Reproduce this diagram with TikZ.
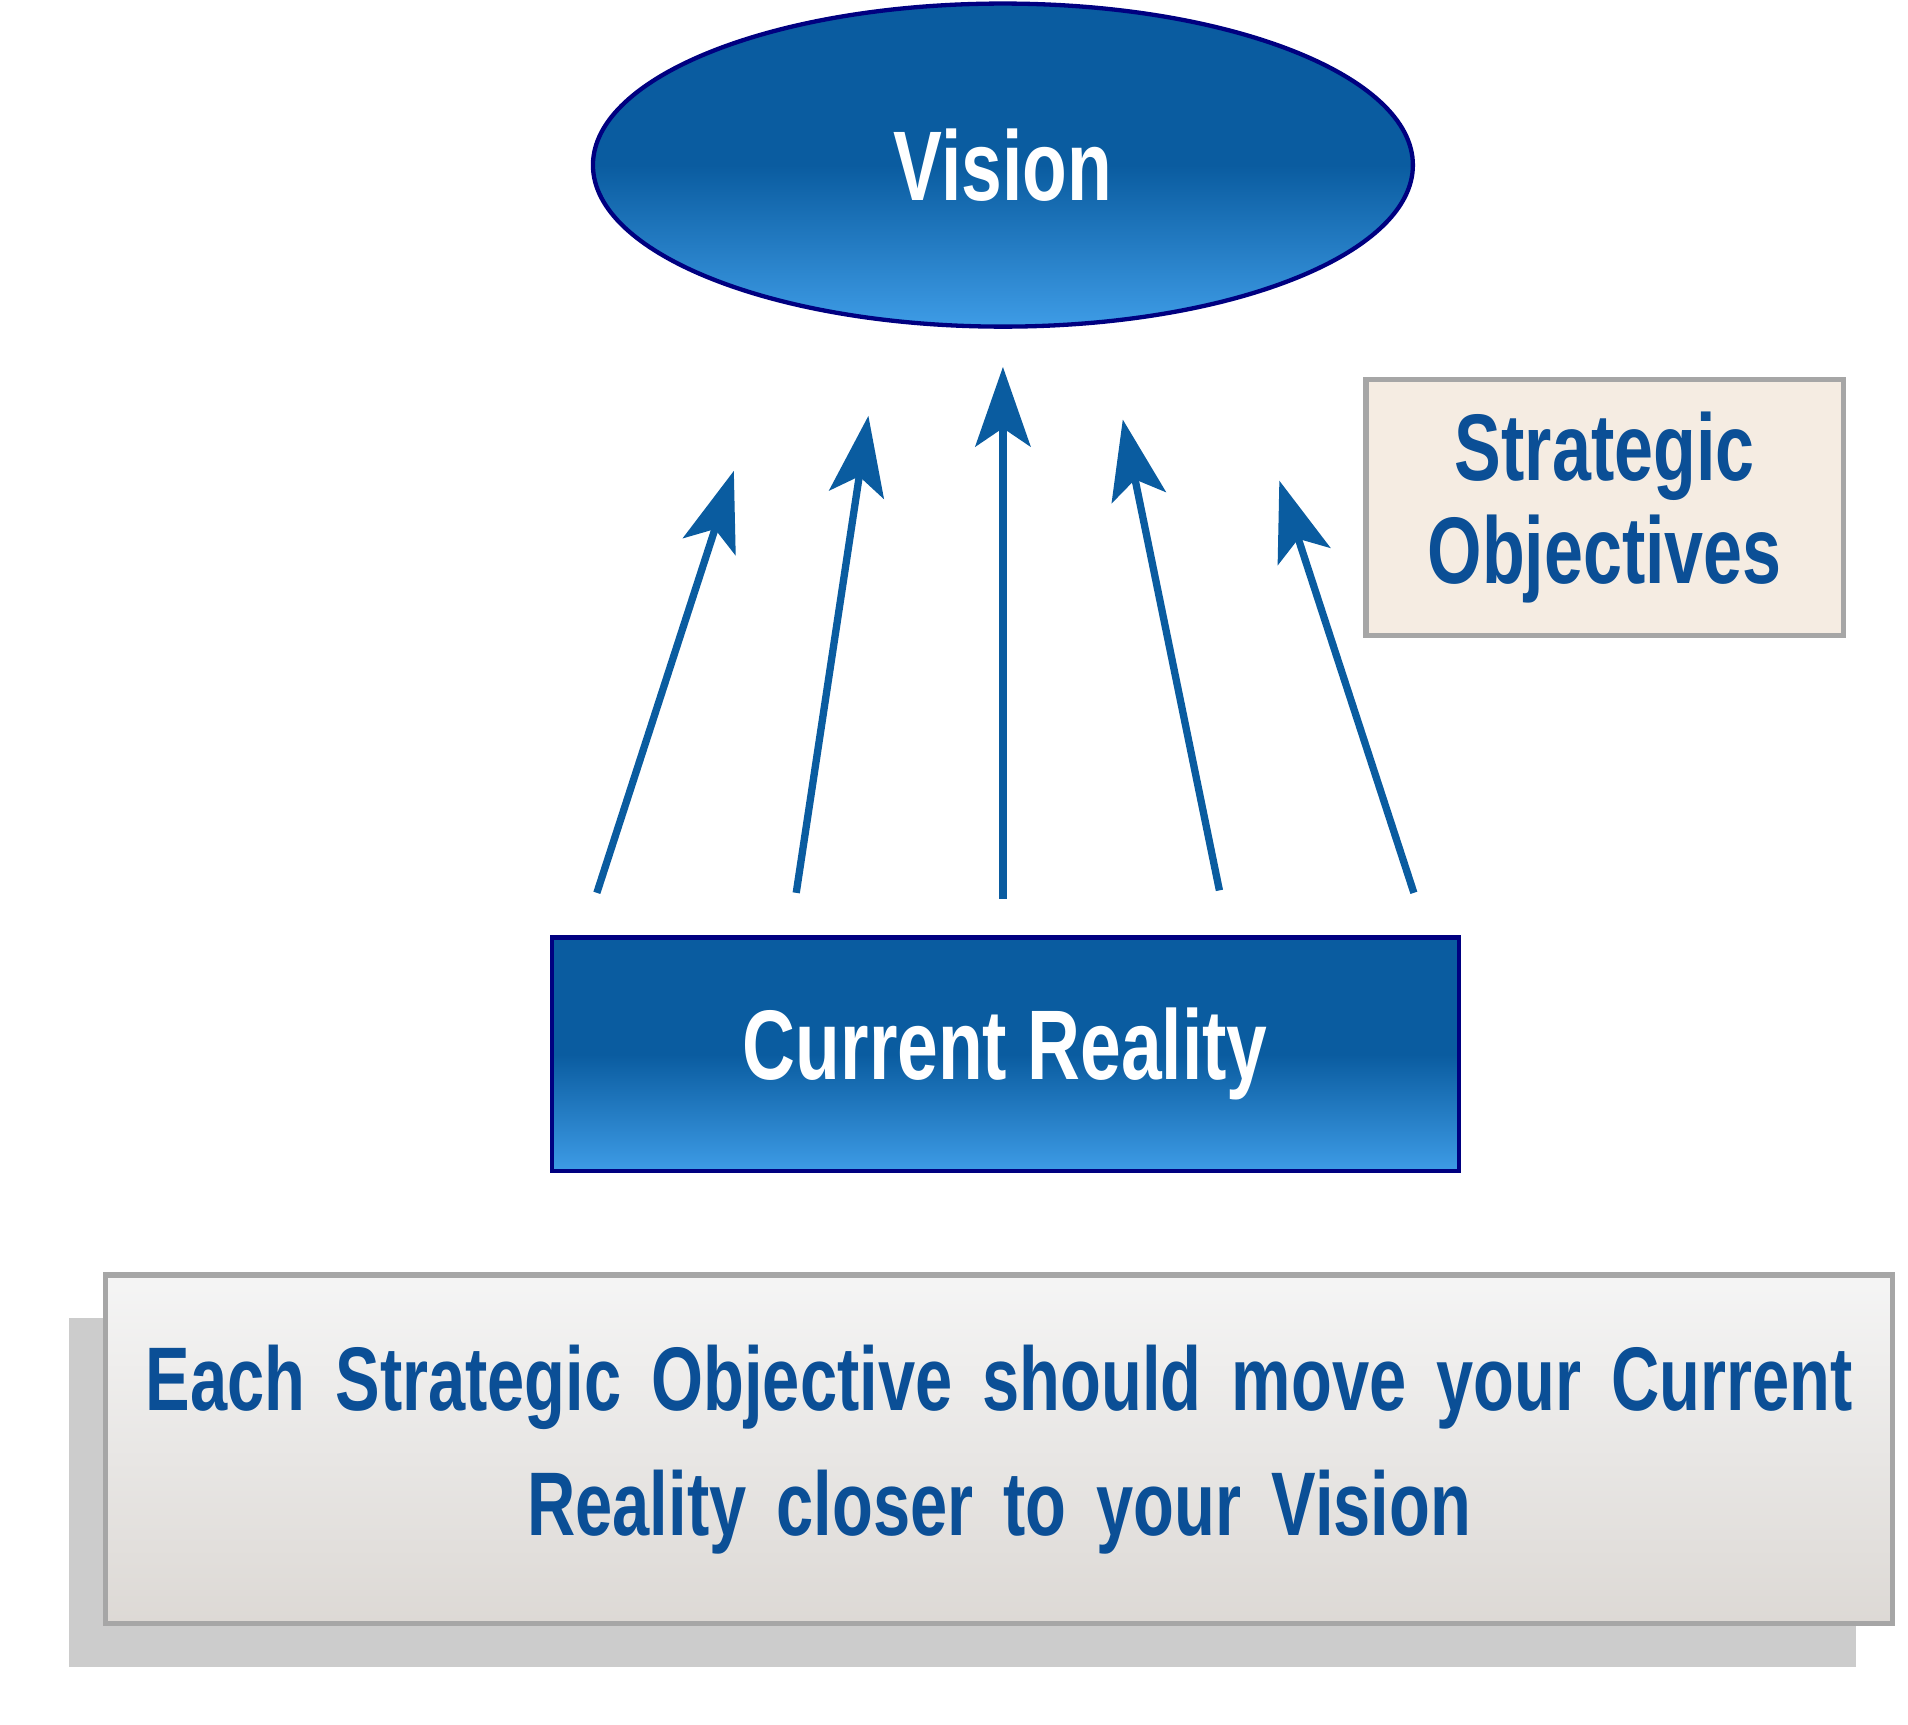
\documentclass[tikz,border=0pt]{standalone}
\usepackage{fontspec}
\setmainfont[FakeStretch=0.74]{Liberation Sans}
\usetikzlibrary{shapes.geometric, arrows.meta, shadows}
\definecolor{visionblue}{HTML}{0A5CA0}
\definecolor{lightblue}{HTML}{3E9CE6}
\definecolor{textblue}{HTML}{0B4F96}
\tikzset{>={Stealth[width=4.5mm,length=6.5mm,inset=1.5mm]}}

\begin{document}
\begin{tikzpicture}[x=0.01cm, y=-0.01cm,
    bluenode/.style={draw=blue!50!black, line width=1pt, top color=visionblue, bottom color=lightblue, middle color=visionblue, text=white, font=\bfseries\fontsize{23}{28}\selectfont},
    graynode/.style={draw=gray!70, line width=1.2pt, text=textblue, font=\bfseries\fontsize{22}{28}\selectfont, align=center},
    objarrow/.style={->, draw=visionblue, line width=1.7pt}]
    \useasboundingbox (0,0) rectangle (1560,1410);

    %Nodes
    \node[bluenode, ellipse, minimum width=6.7cm, minimum height=2.64cm, inner sep=0pt](vision) at (820,135){Vision};
    \node[bluenode, rectangle, minimum width=7.41cm, minimum height=1.91cm](reality) at (822,862){Current Reality};
    \node[graynode, fill=brown!15!white, minimum width=3.9cm, minimum height=2.09cm](strategic) at (1312,415){Strategic\\[-4pt]Objectives};
    \node[graynode, font=\bfseries\fontsize{21}{29}\selectfont, top color=gray!8, bottom color=brown!20!gray!30, text width=14.4cm, inner xsep=1mm, minimum height=2.85cm, drop shadow={shadow xshift=-0.3cm, shadow yshift=-0.35cm, opacity=0.4}](note) at (817,1185){Each Strategic Objective should move your Current\\Reality closer to your Vision};

    %Arrows
    \coordinate (s1) at (488,730); \coordinate (e1) at (600,385);
    \coordinate (s2) at (651,730); \coordinate (e2) at (710,340);
    \coordinate (s3) at (820,735); \coordinate (e3) at (820,300);
    \coordinate (s4) at (997,728); \coordinate (e4) at (918,343);
    \coordinate (s5) at (1156,730); \coordinate (e5) at (1046,393);
    \foreach \i in {1,...,5}
        \draw[objarrow] (s\i) -- (e\i);

\end{tikzpicture}
\end{document}
